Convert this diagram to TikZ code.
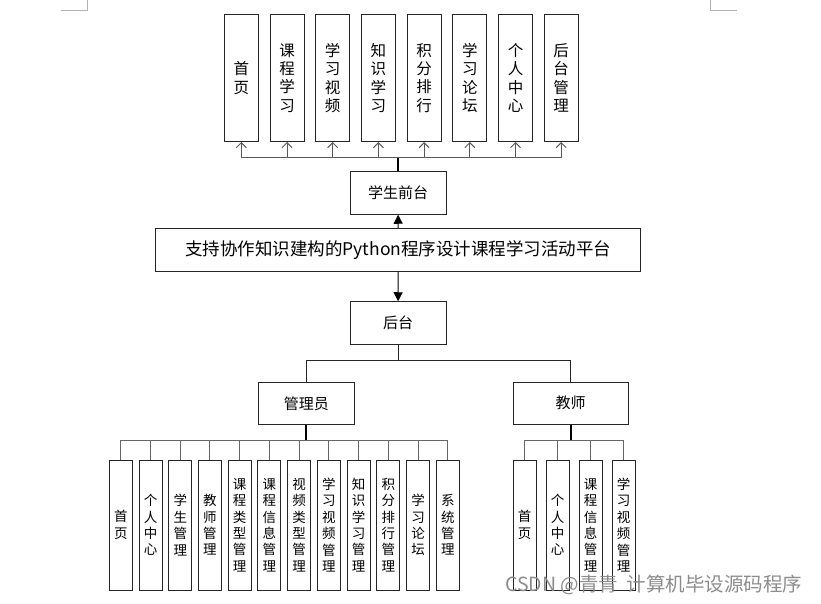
\documentclass[tikz,border=0pt]{standalone}
\usepackage{fontspec}
\setmainfont{Noto Sans CJK SC}
\usetikzlibrary{arrows.meta,calc}
\tikzstyle{tallbox}=[rectangle,draw=black!85,fill=white,line width=1pt,minimum width=34pt,minimum height=127pt,inner sep=0pt,align=center,font=\fontsize{15.5}{18.3}\selectfont]
\tikzstyle{narrowbox}=[rectangle,draw=black!85,fill=white,line width=1pt,minimum width=23pt,minimum height=130pt,inner sep=0pt,align=center,font=\fontsize{13.5}{16.4}\selectfont]
\tikzstyle{midbox}=[rectangle,draw=black!85,fill=white,line width=1pt,minimum width=96pt,minimum height=42.5pt,inner sep=0pt,font=\fontsize{15}{18}\selectfont]
\tikzstyle{titlebox}=[rectangle,draw=black!85,fill=white,line width=1pt,minimum width=484.7pt,minimum height=42.7pt,inner sep=0pt,font=\fontsize{17.5}{20}\selectfont]
\tikzstyle{stem} = [draw,line width=2pt,black]
\tikzstyle{bus} = [draw,line width=1pt,black!85]
\tikzstyle{branch} = [draw,line width=1pt,black!60]
\tikzstyle{openedge} = [draw,line width=1pt,black!65,-{Straight Barb[length=5pt,width=10pt]}]
\tikzstyle{fulledge} = [draw,line width=1pt,black,-{Triangle[length=9pt,width=9pt]}]
\tikzstyle{cornermark} = [draw,line width=1pt,black!30]

\begin{document}
\begin{tikzpicture}[x=1pt,y=-1pt]
\useasboundingbox (0,0) rectangle (821,604);

    \def\tx{241.3};
    \def\tdx{45.7};
    \def\ax{120.8};
    \def\adx{29.73};
    \def\jx{524.7};
    \def\jdx{33};

% page corner marks
\draw[cornermark] (61,10.3) -- (87.3,10.3) -- (87.3,0);
\draw[cornermark] (710.3,0) -- (710.3,10.3) -- (736.7,10.3);

% main column
\node[titlebox] (platform) at (398.3,249.7) {支持协作知识建构的Python程序设计课程学习活动平台};
\node[midbox] (front) at (398,193) {学生前台};
\node[midbox] (back) at (398,323) {后台};
\node[midbox] (admin) at (306.3,403.3) {管理员};
\node[midbox,minimum width=114.7pt] (teacher) at (570.7,403.3) {教师};

\path[fulledge] (platform) -- (front);
\path[fulledge] (platform) -- (back);

%Front page modules
    \foreach \i/\name/\txt in {0/f1/{首\\页}, 1/f2/{课\\程\\学\\习}, 2/f3/{学\\习\\视\\频}, 3/f4/{知\\识\\学\\习}, 4/f5/{积\\分\\排\\行}, 5/f6/{学\\习\\论\\坛}, 6/f7/{个\\人\\中\\心}, 7/f8/{后\\台\\管\\理}}
    	\node[tallbox] (\name) at ({\tx+\tdx*\i},78) {\txt};

\coordinate (frontbus) at (398,157.3);
\path[stem] (front) -- (frontbus);
\path[bus] (frontbus -| f1) -- (frontbus -| f8);
    \foreach \name in {f1,f2,f3,f4,f5,f6,f7,f8}
        \path[openedge] (frontbus) -| (\name);

% Back end
\coordinate (backbus) at (398,360.7);
\path[bus] (back) -- (backbus);
\path[bus] (backbus) -| (admin);
\path[bus] (backbus) -| (teacher);

%Admin modules
    \foreach \i/\name/\txt in {0/a1/{首\\页}, 1/a2/{个\\人\\中\\心}, 2/a3/{学\\生\\管\\理}, 3/a4/{教\\师\\管\\理}, 4/a5/{课\\程\\类\\型\\管\\理}, 5/a6/{课\\程\\信\\息\\管\\理}, 6/a7/{视\\频\\类\\型\\管\\理}, 7/a8/{学\\习\\视\\频\\管\\理}, 8/a9/{知\\识\\学\\习\\管\\理}, 9/a10/{积\\分\\排\\行\\管\\理}, 10/a11/{学\\习\\论\\坛}, 11/a12/{系\\统\\管\\理}}
    	\node[narrowbox] (\name) at ({\ax+\adx*\i},525) {\txt};

\coordinate (adminbus) at (306.3,440.7);
\path[stem] (admin) -- (adminbus);
\path[branch] (adminbus -| a1) -- (adminbus -| a12);
    \foreach \name in {a1,a2,a3,a4,a5,a6,a7,a8,a9,a10,a11,a12}
        \path[branch] (adminbus) -| (\name);

%Teacher modules
    \foreach \i/\name/\txt in {0/j1/{首\\页}, 1/j2/{个\\人\\中\\心}, 2/j3/{课\\程\\信\\息\\管\\理}, 3/j4/{学\\习\\视\\频\\管\\理}}
    	\node[narrowbox] (\name) at ({\jx+\jdx*\i},525) {\txt};

\coordinate (teacherbus) at (570.7,440.7);
\path[stem] (teacher) -- (teacherbus);
\path[branch] (teacherbus -| j1) -- (teacherbus -| j4);
    \foreach \name in {j1,j2,j3,j4}
        \path[branch] (teacherbus) -| (\name);

% Label
\node[anchor=east,text=black!45,font=\fontsize{19.5}{22}\selectfont] (mark) at (806,585) {CSDN @青青\ \ 计算机毕设源码程序};

\end{tikzpicture}
\end{document}
